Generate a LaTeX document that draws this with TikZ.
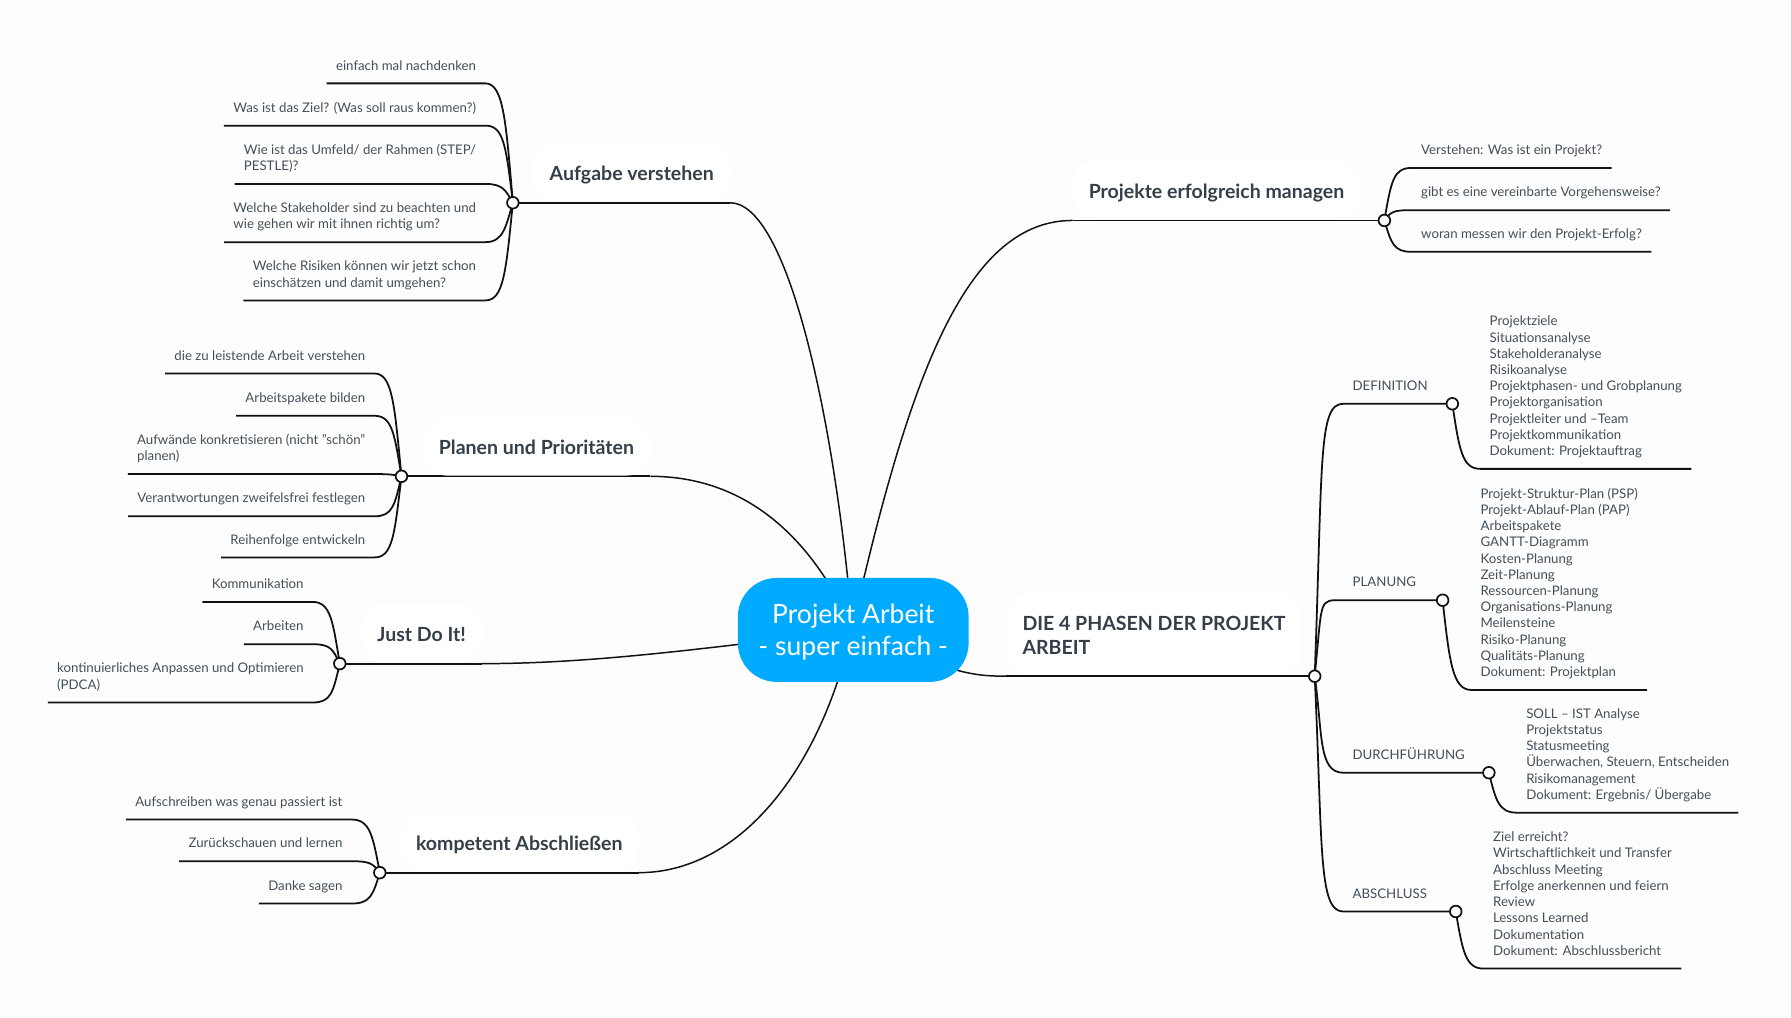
\documentclass[tikz,border=0pt]{standalone}
\usepackage{fontspec}
\setmainfont{Lato}
\usetikzlibrary{backgrounds}
\definecolor{rootblue}{HTML}{00AAFF}
\definecolor{paper}{HTML}{FDFDFD}
\definecolor{leaftext}{HTML}{454F59}
\definecolor{topictext}{HTML}{343F49}
\definecolor{inkline}{HTML}{111111}
\tikzset{
  leaf/.style={align=left,inner xsep=8pt,inner ysep=7.2pt,text=leaftext,
    font=\fontsize{11.6}{14.2}\selectfont,execute at end node=\strut},
  leafl/.style={leaf,anchor=south east},
  leafr/.style={leaf,anchor=south west},
  topic/.style={anchor=south west,align=left,fill=white,rounded corners=20pt,
    inner xsep=14pt,inner ysep=9pt,minimum height=51pt,text=topictext,
    font=\fontsize{17.1}{21}\selectfont\bfseries,
    execute at end node=\rule[-6.3pt]{0pt}{27pt}},
  hub/.style={circle,draw=inkline,fill=white,line width=1.5pt,inner sep=0pt,minimum size=10.2pt},
  branch/.style={draw=inkline,line width=1.55pt},
  trunk/.style={draw=inkline,line width=1.3pt},
  rootbox/.style={fill=rootblue,text=white,align=center,rounded corners=34pt,
    minimum width=202pt,minimum height=91pt,font=\fontsize{23.2}{28}\selectfont}
}
\begin{document}
\begin{tikzpicture}[x=1pt,y=-1pt]
\useasboundingbox (0,0) rectangle (1568,890.4);
\path (747,551.5) node [rootbox] (root) {\rule{0pt}{21pt}Projekt Arbeit\\- super einfach -};

\path
    (467,176.5) node [topic] (aufgabe)   {Aufgabe verstehen}
    (939,192.0) node [topic] (projekte)  {Projekte erfolgreich managen}
    (370,416.5) node [topic] (planen)    {Planen und Prioritäten}
    (316,580.0) node [topic] (justdo)    {Just Do It!}
    (350,763.0) node [topic] (kompetent) {kompetent Abschließen}
    (881,591.0) node [topic,minimum height=72pt] (phasen) {\rule{0pt}{21pt}DIE 4 PHASEN DER PROJEKT\\ARBEIT};

\path
    (449 ,177.5) node [hub] (huba) {}
    (351.5,417 ) node [hub] (hubp) {}
    (297.5,581 ) node [hub] (hubj) {}
    (332.5,764 ) node [hub] (hubk) {}
    (1212,193  ) node [hub] (hubr) {}
    (1151,592  ) node [hub] (hubd) {}
    (1271.5,353.5) node [hub] (hubdef) {}
    (1263,525.5) node [hub] (hubpla) {}
    (1303.5,676.5) node [hub] (hubdur) {}
    (1274.5,798) node [hub] (hubabs) {};

\path
    (425,73 ) node [leafl] (a1) {einfach mal nachdenken}
    (425,110) node [leafl] (a2) {Was ist das Ziel? (Was soll raus kommen?)}
    (425,161) node [leafl] (a3) {Wie ist das Umfeld/ der Rahmen (STEP/\\PESTLE)?}
    (425,212) node [leafl] (a4) {Welche Stakeholder sind zu beachten und\\wie gehen wir mit ihnen richtig um?}
    (425,263) node [leafl] (a5) {Welche Risiken können wir jetzt schon\\einschätzen und damit umgehen?}
    (328,327) node [leafl] (p1) {die zu leistende Arbeit verstehen}
    (328,364) node [leafl] (p2) {Arbeitspakete bilden}
    (328,415) node [leafl] (p3) {Aufwände konkretisieren (nicht "schön"\\planen)}
    (328,452) node [leafl] (p4) {Verantwortungen zweifelsfrei festlegen}
    (328,488) node [leafl] (p5) {Reihenfolge entwickeln}
    (274,527) node [leafl] (j1) {Kommunikation}
    (274,564) node [leafl] (j2) {Arbeiten}
    (274,615) node [leafl] (j3) {kontinuierliches Anpassen und Optimieren\\(PDCA)}
    (308,717.5) node [leafl] (k1) {Aufschreiben was genau passiert ist}
    (308,754) node [leafl] (k2) {Zurückschauen und lernen}
    (308,791) node [leafl] (k3) {Danke sagen};

\path
    (1236,147  ) node [leafr] (r1) {Verstehen: Was ist ein Projekt?}
    (1236,184  ) node [leafr] (r2) {gibt es eine vereinbarte Vorgehensweise?}
    (1236,220.5) node [leafr] (r3) {woran messen wir den Projekt-Erfolg?}
    (1176,353.5) node [leafr] (def) {DEFINITION}
    (1176,525.5) node [leafr] (pla) {PLANUNG}
    (1176,676.5) node [leafr] (dur) {DURCHFÜHRUNG}
    (1176,798  ) node [leafr] (abs) {ABSCHLUSS}
    (1296,410.5) node [leafr] (ldef) {Projektziele\\Situationsanalyse\\Stakeholderanalyse\\Risikoanalyse\\Projektphasen- und Grobplanung\\Projektorganisation\\Projektleiter und –Team\\Projektkommunikation\\Dokument: Projektauftrag}
    (1288,604  ) node [leafr] (lpla) {Projekt-Struktur-Plan (PSP)\\Projekt-Ablauf-Plan (PAP)\\Arbeitspakete\\GANTT-Diagramm\\Kosten-Planung\\Zeit-Planung\\Ressourcen-Planung\\Organisations-Planung\\Meilensteine\\Risiko-Planung\\Qualitäts-Planung\\Dokument: Projektplan}
    (1328,711.5) node [leafr] (ldur) {SOLL – IST Analyse\\Projektstatus\\Statusmeeting\\Überwachen, Steuern, Entscheiden\\Risikomanagement\\Dokument: Ergebnis/ Übergabe}
    (1299,848  ) node [leafr] (labs) {Ziel erreicht?\\Wirtschaftlichkeit und Transfer\\Abschluss Meeting\\Erfolge anerkennen und feiern\\Review\\Lessons Learned\\Dokumentation\\Dokument: Abschlussbericht};

\coordinate (ina) at (743.5,520);
\coordinate (inr) at (753,520);
\coordinate (inp) at (728,515);
\coordinate (inj) at (665,562);
\coordinate (ink) at (737,585);
\coordinate (ind) at (820,581);

\begin{scope}[on background layer]
\fill [paper] (0,0) rectangle (1568,890.4);
\draw [branch] (huba.center) -- (aufgabe.south east |- huba);
\draw [trunk]  (aufgabe.south east |- huba) .. controls +(50,0) and (728,360) .. (ina);
\draw [branch] (hubr.center) -- (projekte.south west |- hubr);
\draw [trunk]  (projekte.south west |- hubr) .. controls +(-90,0) and (800,320) .. (inr);
\draw [branch] (hubp.center) -- (planen.south east |- hubp);
\draw [trunk]  (planen.south east |- hubp) .. controls +(75,0) and (695,460) .. (inp);
\draw [branch] (hubj.center) -- (justdo.south east |- hubj);
\draw [trunk]  (justdo.south east |- hubj) .. controls +(80,0) and (580,572) .. (inj);
\draw [branch] (hubk.center) -- (kompetent.south east |- hubk);
\draw [trunk]  (kompetent.south east |- hubk) .. controls +(80,0) and (705,690) .. (ink);
\draw [branch] (hubd.center) -- (phasen.south west |- hubd);
\draw [trunk]  (phasen.south west |- hubd) .. controls +(-22,0) and (845,590) .. (ind);
\foreach \leaf/\hub/\dy in {a1/huba/-70,a2/huba/-50,a3/huba/-10,a4/huba/20,a5/huba/60,
    p1/hubp/-60,p2/hubp/-35,p3/hubp/-1,p4/hubp/25,p5/hubp/50,
    j1/hubj/-35,j2/hubj/-12,j3/hubj/25,k1/hubk/-32,k2/hubk/-8,k3/hubk/20}
  \draw [branch] (\leaf.south west) -- (\leaf.south east)
    .. controls +(16,0) and +(-6,\dy) .. (\hub.center);
\foreach \leaf/\hub/\dy in {r1/hubr/-35,r2/hubr/-8,r3/hubr/20,
    ldef/hubdef/40,lpla/hubpla/55,ldur/hubdur/24,labs/hubabs/35}
  \draw [branch] (\leaf.south east) -- (\leaf.south west)
    .. controls +(-16,0) and +(6,\dy) .. (\hub.center);
\foreach \phase/\hub/\dy in {def/hubdef/-190,pla/hubpla/-70,dur/hubdur/50,abs/hubabs/150}
  \draw [branch] (\hub.center) -- (\phase.south west)
    .. controls +(-22,0) and +(7,\dy) .. (hubd.center);
\end{scope}
\end{tikzpicture}
\end{document}
